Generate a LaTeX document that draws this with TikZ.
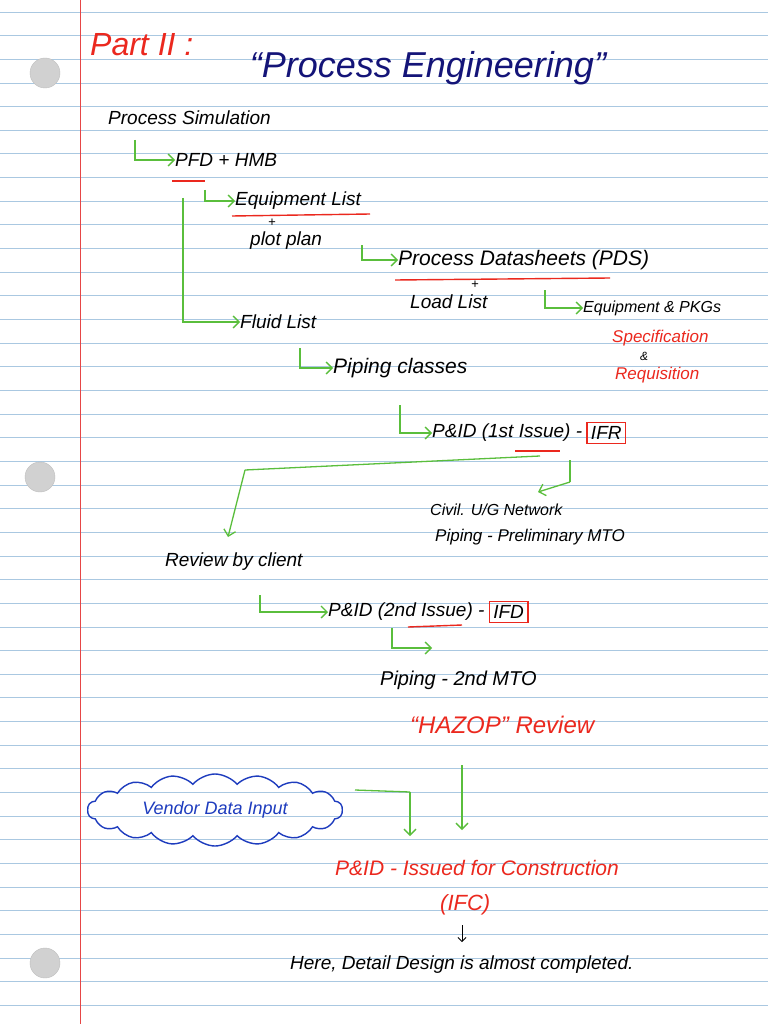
\documentclass[tikz,border=0pt]{standalone}
\usepackage{fontspec}
\setmainfont{Liberation Sans}
\usetikzlibrary{shapes.symbols,arrows.meta,positioning}
\definecolor{rl}{RGB}{170,200,225}
\definecolor{mr}{RGB}{230,70,70}
\definecolor{gr}{RGB}{90,190,60}
\definecolor{pen}{RGB}{235,40,30}
\definecolor{nv}{RGB}{20,20,120}
\definecolor{bl}{RGB}{30,60,190}
\tikzset{
 t/.style={anchor=west,inner sep=0pt,font=\itshape\fontsize{19}{19}\selectfont,text=black},
 tr/.style={t,text=pen},
 ga/.style={draw=gr,line width=1.3pt,-{Straight Barb[length=6pt]}},
 gl/.style={draw=gr,line width=1.3pt},
 ul/.style={draw=pen,line width=1.4pt},
 bx/.style={draw=pen,line width=1.3pt,inner sep=4pt,font=\itshape\fontsize{19}{19}\selectfont,text=black},
 hole/.style={fill=black!18,draw=black!25,circle,minimum size=30pt,inner sep=0pt}
}
\begin{document}
\begin{tikzpicture}[x=1pt,y=-1pt]
\fill[white] (0,0) rectangle (768,1024);
\useasboundingbox (0,0) rectangle (768,1024);
\foreach \i in {0,...,42}{\draw[rl,line width=0.8pt] (0,{12+23.65*\i}) -- (768,{12+23.65*\i});}
\draw[mr,line width=1pt] (80,0) -- (80,1024);
\node[hole] (h1) at (45,73) {};
\node[hole] (h2) at (40,477) {};
\node[hole] (h3) at (45,963) {};
\node[anchor=west,inner sep=0pt,text=pen,font=\itshape\fontsize{32}{32}\selectfont] (p2) at (90,45) {Part II :};
\node[inner sep=0pt,text=nv,font=\itshape\fontsize{36}{36}\selectfont] (pe) at (428,68) {“Process Engineering”};
\node[t] (ps) at (108,118) {Process Simulation};
\node[t] (pfd) at (175,160) {PFD + HMB};
\coordinate (a1) at (135,140);
\draw[ga] (a1) |- (pfd.west);
\draw[ul] (172,181) -- (205,181);
\node[t] (el) at (235,201) {Equipment List};
\draw[ul] (232,216) -- (370,214);
\coordinate (a2) at (205,190);
\draw[ga] (a2) |- (el.west);
\node[t,font=\itshape\fontsize{13}{13}\selectfont] (pl1) at (268,223) {+};
\node[t] (pl) at (250,241) {plot plan};
\node[t] (fl) at (240,322) {Fluid List};
\coordinate (a3) at (183,198);
\draw[ga] (a3) |- (fl.west);
\node[t,font=\itshape\fontsize{21}{21}\selectfont] (pds) at (398,260) {Process Datasheets (PDS)};
\draw[ul] (395,280) -- (610,278);
\coordinate (a4) at (362,245);
\draw[ga] (a4) |- (pds.west);
\node[t,font=\itshape\fontsize{13}{13}\selectfont] (pl2) at (471,285) {+};
\node[t] (ll) at (410,302) {Load List};
\node[t,font=\itshape\fontsize{16}{16}\selectfont] (ep) at (583,308) {Equipment \& PKGs};
\coordinate (a5) at (545,290);
\draw[ga] (a5) |- (ep.west);
\node[tr,font=\itshape\fontsize{17}{17}\selectfont] (sp) at (612,338) {Specification};
\node[t,font=\itshape\fontsize{12}{12}\selectfont] (amp) at (640,356) {\&};
\node[tr,font=\itshape\fontsize{17}{17}\selectfont] (rq) at (615,375) {Requisition};
\node[t,font=\itshape\fontsize{21}{21}\selectfont] (pc) at (333,368) {Piping classes};
\coordinate (a6) at (300,348);
\draw[ga] (a6) |- (pc.west);
\node[t] (pid1) at (432,433) {P\&ID (1st Issue) -};
\node[bx,right=4pt of pid1] (ifr) {IFR};
\coordinate (a7) at (400,405);
\draw[ga] (a7) |- (pid1.west);
\draw[ul] (515,451) -- (560,451);
\coordinate (b1) at (540,456);
\coordinate (b2) at (245,470);
\coordinate (b3) at (228,537);
\draw[gl] (b1) -- (b2);
\draw[ga] (b2) -- (b3);
\coordinate (c1) at (570,460);
\coordinate (c2) at (570,482);
\coordinate (c3) at (538,492);
\draw[gl] (c1) -- (c2);
\draw[ga] (c2) -- (c3);
\node[t,font=\itshape\fontsize{16}{16}\selectfont] (cv) at (430,510) {Civil. U/G Network};
\node[t,font=\itshape\fontsize{17}{17}\selectfont] (mto1) at (435,537) {Piping - Preliminary MTO};
\node[t] (rc) at (165,562) {Review by client};
\node[t] (pid2) at (328,612) {P\&ID (2nd Issue) -};
\node[bx,right=4pt of pid2] (ifd) {IFD};
\coordinate (a8) at (260,595);
\draw[ga] (a8) |- (pid2.west);
\draw[ul] (408,627) -- (462,625);
\coordinate (a9) at (392,628);
\coordinate (a9e) at (432,648);
\draw[ga] (a9) |- (a9e);
\node[t,font=\itshape\fontsize{20}{20}\selectfont] (mto2) at (380,680) {Piping - 2nd MTO};
\node[tr,font=\itshape\fontsize{24}{24}\selectfont] (hz) at (410,725) {“HAZOP” Review};
\coordinate (d1) at (462,765);
\coordinate (d2) at (462,830);
\draw[ga] (d1) -- (d2);
\node[cloud,draw=bl,line width=1.4pt,cloud puffs=18,cloud puff arc=100,aspect=4,inner sep=0pt,minimum width=255pt,minimum height=72pt,text=bl,font=\itshape\fontsize{18}{18}\selectfont] (vd) at (215,810) {Vendor Data Input};
\coordinate (e0) at (355,790);
\coordinate (e1) at (410,792);
\coordinate (e2) at (410,836);
\draw[gl] (e0) -- (e1);
\draw[ga] (e1) -- (e2);
\node[tr,font=\itshape\fontsize{21}{21}\selectfont] (ifc1) at (335,868) {P\&ID - Issued for Construction};
\node[tr,font=\itshape\fontsize{22}{22}\selectfont] (ifc2) at (440,905) {(IFC)};
\coordinate (f1) at (462,925);
\coordinate (f2) at (462,942);
\draw[-{Straight Barb[length=4pt]},line width=0.8pt] (f1) -- (f2);
\node[t] (hd) at (290,965) {Here, Detail Design is almost completed.};
\end{tikzpicture}
\end{document}
